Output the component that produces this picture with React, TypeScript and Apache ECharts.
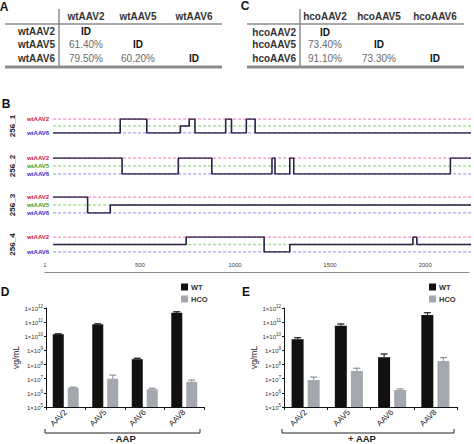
import React, { useEffect, useRef } from 'react';
import * as echarts from 'echarts';

// ---- Identity tables (A, C) ----
const wtNames = ['wtAAV2', 'wtAAV5', 'wtAAV6'];
const wtIdentity = [
  ['ID', '', ''],
  ['61.40%', 'ID', ''],
  ['79.50%', '60.20%', 'ID'],
];
const hcoNames = ['hcoAAV2', 'hcoAAV5', 'hcoAAV6'];
const hcoIdentity = [
  ['ID', '', ''],
  ['73.40%', 'ID', ''],
  ['91.10%', '73.30%', 'ID'],
];

// ---- Closest-parent tracks (B): [position, track index] where 0=AAV2, 1=AAV5, 2=AAV6 ----
const trackNames = ['wtAAV2', 'wtAAV5', 'wtAAV6'];
const segmentNames = ['256_1', '256_2', '256_3', '256_4'];
const seqLength = 2231;
const positionTicks = [1, 500, 1000, 1500, 2000];
const seg1 = [[1, 2], [359, 0], [501, 2], [680, 1], [727, 0], [758, 2], [922, 0], [953, 2], [1032, 0], [1079, 2], [2231, 2]];
const seg2 = [[1, 0], [369, 2], [669, 0], [848, 2], [1169, 0], [1185, 2], [1264, 0], [1285, 2], [2121, 0], [2231, 0]];
const seg3 = [[1, 0], [185, 2], [306, 1], [2231, 1]];
const seg4 = [[1, 1], [711, 0], [1127, 2], [1264, 1], [1921, 0], [1942, 1], [2231, 1]];
const segments = [seg1, seg2, seg3, seg4];

// ---- Titers (D: - AAP, E: + AAP), vg/mL ----
const serotypes = ['AAV2', 'AAV5', 'AAV6', 'AAV8'];
const wtMinus = [1.4e10, 7.0e10, 2.4e8, 4.6e11];
const wtMinusHi = [1.5e10, 7.6e10, 2.8e8, 5.4e11];
const hcoMinus = [2.3e6, 1.0e7, 1.8e6, 6.0e6];
const hcoMinusHi = [2.5e6, 1.8e7, 2.1e6, 8.0e6];
const wtPlus = [6.2e9, 5.6e10, 3.3e8, 3.2e11];
const wtPlusHi = [7.9e9, 7.4e10, 5.6e8, 4.6e11];
const hcoPlus = [8.0e6, 3.5e7, 1.6e6, 1.8e8];
const hcoPlusHi = [1.3e7, 5.5e7, 1.9e6, 3.1e8];

const FONT = 'Liberation Sans, Arial, Helvetica, sans-serif';
const TRACK_COLORS = ['#d0154f', '#3c9e2e', '#3232c8'];
const TRACK_FAINT = ['#f07cbc', '#8ed67c', '#9494ee'];
const WT_COLOR = '#111111';
const HCO_COLOR = '#a3a8af';

function txt(text: string, x: number, y: number, opts: any = {}) {
  return {
    type: 'text',
    silent: true,
    style: {
      text,
      x,
      y,
      fill: opts.fill || '#333',
      fontSize: opts.fontSize || 10,
      fontWeight: opts.fontWeight || 'normal',
      fontFamily: FONT,
      align: opts.align || 'center',
      verticalAlign: 'middle',
      textAlign: opts.align || 'center',
      textVerticalAlign: 'middle',
    },
  };
}

function line(x1: number, y1: number, x2: number, y2: number, stroke: string, lineWidth: number) {
  return { type: 'line', silent: true, shape: { x1, y1, x2, y2 }, style: { stroke, lineWidth } };
}

function buildTable(names: string[], cells: string[][], lay: any) {
  const els: any[] = [];
  names.forEach((n, i) => {
    els.push(txt(n, lay.cols[i], lay.headerY, { fontWeight: 'bold', fill: '#333' }));
    els.push(txt(n, lay.labelRight, lay.rows[i], { fontWeight: 'bold', fill: '#333', align: 'right' }));
  });
  cells.forEach((row, r) =>
    row.forEach((c, k) => {
      if (!c) return;
      const isId = c === 'ID';
      els.push(
        txt(c, lay.cols[k], lay.rows[r], {
          fontWeight: isId ? 'bold' : 'normal',
          fill: isId ? '#111' : '#6a6a6a',
        })
      );
    })
  );
  els.push(line(lay.lineL, 24, lay.lineR, 24, '#8c8c8c', 1.5));
  els.push(line(lay.vx, 9, lay.vx, 66, '#8c8c8c', 1.5));
  els.push(line(lay.lineL, 67, lay.lineR, 67, '#8c8c8c', 3));
  return els;
}

function errorSeries(name: string, axis: number, lows: number[], highs: number[], offset: number, color: string) {
  return {
    type: 'custom',
    name,
    xAxisIndex: axis,
    yAxisIndex: axis,
    silent: true,
    z: 3,
    encode: { x: 0, y: [1, 2] },
    data: lows.map((v, i) => [i, v, highs[i]]),
    renderItem: (_p: any, api: any) => {
      const c = api.value(0);
      const a = api.coord([c, api.value(1)]);
      const b = api.coord([c, api.value(2)]);
      const x = a[0] + offset;
      return {
        type: 'group',
        children: [
          { type: 'line', shape: { x1: x, y1: a[1], x2: x, y2: b[1] }, style: { stroke: color, lineWidth: 1 } },
          { type: 'line', shape: { x1: x - 3.5, y1: b[1], x2: x + 3.5, y2: b[1] }, style: { stroke: color, lineWidth: 1.2 } },
        ],
      };
    },
  };
}

export default function App() {
  const ref = useRef<HTMLDivElement>(null);

  useEffect(() => {
    document.body.style.margin = '0';
    if (!ref.current) return;
    const chart = echarts.init(ref.current, undefined, { renderer: 'svg' });

    const rowGrids = [
      { top: 119, height: 14 },
      { top: 158, height: 16 },
      { top: 197, height: 16 },
      { top: 237, height: 15 },
    ];

    const grids: any[] = rowGrids.map((g) => ({ left: 47, right: 3, top: g.top, height: g.height }));
    grids.push({ left: 45, right: 5, top: 271, height: 1 });
    grids.push({ left: 46, top: 308, width: 158, height: 99 });
    grids.push({ left: 284, top: 308, width: 173, height: 99 });

    const xAxis: any[] = rowGrids.map((_, i) => ({
      type: 'value',
      gridIndex: i,
      min: 1,
      max: seqLength,
      show: false,
    }));
    xAxis.push({
      type: 'value',
      gridIndex: 4,
      min: 1,
      max: seqLength,
      position: 'top',
      axisLine: { show: true, lineStyle: { color: '#8c8c8c', width: 1 } },
      axisTick: { show: false },
      splitLine: { show: false },
      axisLabel: {
        customValues: positionTicks,
        formatter: (v: number) => String(v),
        fontSize: 6,
        color: '#444',
        fontFamily: FONT,
        margin: 3,
      },
    });
    const catAxis = (gi: number) => ({
      type: 'category',
      gridIndex: gi,
      data: serotypes,
      axisLine: { lineStyle: { color: '#111', width: 1 } },
      axisTick: { show: true, length: 3, lineStyle: { color: '#111' } },
      axisLabel: { rotate: 45, fontSize: 8, color: '#222', fontFamily: FONT, margin: 4, interval: 0 },
    });
    xAxis.push(catAxis(5));
    xAxis.push(catAxis(6));

    const yAxis: any[] = rowGrids.map((_, i) => ({
      type: 'category',
      gridIndex: i,
      data: trackNames,
      inverse: true,
      boundaryGap: false,
      axisLine: { show: false },
      axisTick: { show: false },
      splitLine: { show: false },
      axisLabel: {
        fontSize: 6,
        fontWeight: 'bold',
        fontFamily: FONT,
        margin: 4,
        color: (v: string) => TRACK_COLORS[trackNames.indexOf(v)],
      },
      name: segmentNames[i],
      nameLocation: 'middle',
      nameRotate: 90,
      nameGap: 33,
      nameTextStyle: { fontSize: 8, fontWeight: 'bold', color: '#222', fontFamily: FONT },
    }));
    yAxis.push({ type: 'value', gridIndex: 4, show: false });
    const logAxis = (gi: number, gap: number) => ({
      type: 'log',
      gridIndex: gi,
      logBase: 10,
      min: 1e5,
      max: 1e12,
      splitNumber: 7,
      name: 'vg/mL',
      nameLocation: 'middle',
      nameGap: gap,
      nameTextStyle: { fontSize: 8.5, color: '#222', fontFamily: FONT },
      axisLine: { show: true, lineStyle: { color: '#111', width: 1 } },
      axisTick: { show: true, length: 2, lineStyle: { color: '#111' } },
      splitLine: { show: false },
      axisLabel: {
        margin: 3,
        color: '#333',
        fontFamily: FONT,
        formatter: (v: number) => `{b|1×10}{s|${Math.round(Math.log10(v))}}`,
        rich: {
          b: { fontSize: 6, fontFamily: FONT, color: '#333', lineHeight: 8, verticalAlign: 'bottom' },
          s: { fontSize: 4.5, fontFamily: FONT, color: '#333', lineHeight: 8, verticalAlign: 'top' },
        },
      },
    });
    yAxis.push(logAxis(5, 25));
    yAxis.push(logAxis(6, 26));

    const series: any[] = [];
    segments.forEach((seg, i) => {
      trackNames.forEach((_, t) => {
        series.push({
          type: 'line',
          xAxisIndex: i,
          yAxisIndex: i,
          data: [
            [1, t],
            [seqLength, t],
          ],
          symbol: 'none',
          silent: true,
          lineStyle: { color: TRACK_FAINT[t], width: 1.4, type: [3, 2], opacity: 0.8 },
          z: 1,
        });
      });
      // the y axis is the category (base) axis here, so 'start' runs horizontally first
      series.push({
        type: 'line',
        xAxisIndex: i,
        yAxisIndex: i,
        data: seg,
        step: 'start',
        symbol: 'none',
        silent: true,
        lineStyle: { color: '#2b1f48', width: 1.6 },
        z: 2,
      });
    });

    const bars = (gi: number, wt: number[], hco: number[], width: number, gap: string) => [
      {
        type: 'bar',
        name: 'WT',
        xAxisIndex: gi,
        yAxisIndex: gi,
        data: wt,
        barWidth: width,
        barGap: gap,
        clip: true,
        itemStyle: { color: WT_COLOR },
      },
      {
        type: 'bar',
        name: 'HCO',
        xAxisIndex: gi,
        yAxisIndex: gi,
        data: hco,
        barWidth: width,
        barGap: gap,
        clip: true,
        itemStyle: { color: HCO_COLOR },
      },
    ];
    series.push(...bars(5, wtMinus, hcoMinus, 11, '36%'));
    series.push(...bars(6, wtPlus, hcoPlus, 12, '34%'));
    series.push(errorSeries('wtErrD', 5, wtMinus, wtMinusHi, -7.5, '#111'));
    series.push(errorSeries('hcoErrD', 5, hcoMinus, hcoMinusHi, 7.5, '#8a8f96'));
    series.push(errorSeries('wtErrE', 6, wtPlus, wtPlusHi, -8, '#111'));
    series.push(errorSeries('hcoErrE', 6, hcoPlus, hcoPlusHi, 8, '#8a8f96'));

    const legendBase = {
      data: ['WT', 'HCO'],
      orient: 'vertical',
      top: 283,
      itemWidth: 7,
      itemHeight: 7,
      itemGap: 4,
      icon: 'rect',
      selectedMode: false,
      padding: 0,
      textStyle: { fontSize: 7.5, fontWeight: 'bold', color: '#333', fontFamily: FONT, padding: [0, 0, 0, -2] },
    };

    const graphic: any[] = [
      ...buildTable(wtNames, wtIdentity, {
        labelRight: 55,
        cols: [86, 138, 194],
        headerY: 16,
        rows: [31, 44.5, 58],
        vx: 59,
        lineL: 5,
        lineR: 222,
      }),
      ...buildTable(hcoNames, hcoIdentity, {
        labelRight: 296,
        cols: [325, 379, 435],
        headerY: 16,
        rows: [32, 44.5, 58.5],
        vx: 300,
        lineL: 247,
        lineR: 464,
      }),
      txt('A', 4, 7, { fontSize: 12, fontWeight: 'bold', fill: '#111' }),
      txt('C', 245, 6, { fontSize: 12, fontWeight: 'bold', fill: '#111' }),
      txt('B', 6, 104, { fontSize: 12, fontWeight: 'bold', fill: '#111' }),
      txt('D', 5, 292, { fontSize: 12, fontWeight: 'bold', fill: '#111' }),
      txt('E', 246, 292, { fontSize: 12, fontWeight: 'bold', fill: '#111' }),
      {
        type: 'polyline',
        silent: true,
        shape: { points: [[45, 429], [45, 433], [200, 433], [200, 429]] },
        style: { stroke: '#222', lineWidth: 1, fill: 'none' },
      },
      {
        type: 'polyline',
        silent: true,
        shape: { points: [[282, 429], [282, 433], [454, 433], [454, 429]] },
        style: { stroke: '#222', lineWidth: 1, fill: 'none' },
      },
      txt('- AAP', 123, 438.5, { fontSize: 9.5, fontWeight: 'bold', fill: '#222' }),
      txt('+ AAP', 362, 438.5, { fontSize: 9.5, fontWeight: 'bold', fill: '#222' }),
    ];

    chart.setOption({
      animation: false,
      backgroundColor: '#ffffff',
      textStyle: { fontFamily: FONT },
      grid: grids,
      xAxis,
      yAxis,
      series,
      legend: [
        { ...legendBase, left: 181 },
        { ...legendBase, left: 429 },
      ],
      graphic,
    });

    return () => chart.dispose();
  }, []);

  return (
    <div
      ref={ref}
      style={{ position: 'absolute', left: 0, top: 0, width: 474, height: 444, background: '#fff' }}
    />
  );
}
